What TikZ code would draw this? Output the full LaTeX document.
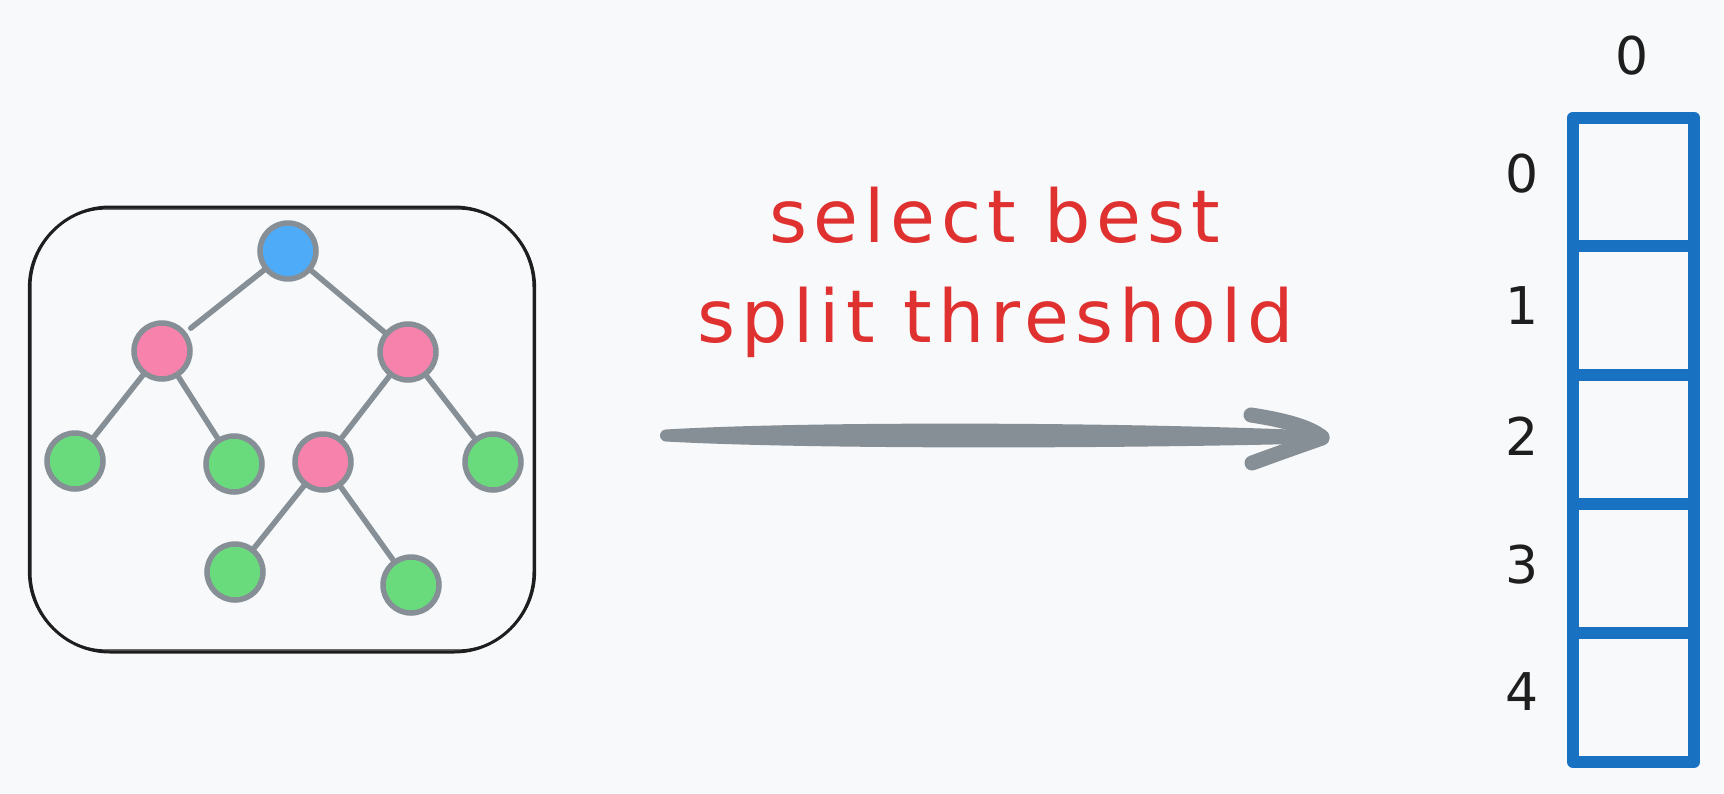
\documentclass[tikz,border=0pt]{standalone}
\usepackage{fontspec}
\newfontfamily\handfont[LetterSpace=8]{DejaVu Sans}
\newfontfamily\digitfont{DejaVu Sans}
\definecolor{bgc}{HTML}{F8F9FA}
\definecolor{edgegray}{HTML}{868E96}
\definecolor{rootblue}{HTML}{4DABF7}
\definecolor{pinkc}{HTML}{F783AC}
\definecolor{greenc}{HTML}{69DB7C}
\definecolor{inkblack}{HTML}{1E1E1E}
\definecolor{redc}{HTML}{E03131}
\definecolor{arrblue}{HTML}{1971C2}
\tikzset{
  treenode/.style={circle, minimum size=56pt, inner sep=0pt, line width=5.5pt, draw=edgegray},
  treeedge/.style={line width=5.5pt, draw=edgegray, line cap=round},
  redtext/.style={font=\handfont\fontsize{73}{80}\selectfont, text=redc, inner sep=0pt},
  rowlabel/.style={font=\digitfont\fontsize{52}{60}\selectfont, text=inkblack, inner sep=0pt},
  cell/.style={draw=arrblue, line width=12pt, minimum width=121pt, minimum height=128.9pt, inner sep=0pt, line join=round},
  barb/.style={draw=edgegray, line width=15pt, line cap=round}
}
\begin{document}
\begin{tikzpicture}[x=1pt,y=-1pt]
\fill[bgc] (0,0) rectangle (1724,793);
\useasboundingbox (0,0) rectangle (1724,793);

% sketch box
\draw[inkblack, line width=3pt, rounded corners=80pt] (30,207) rectangle (534,652);
\draw[inkblack, line width=1.2pt, rounded corners=78pt] (28.5,209) rectangle (535.5,650);

% tree nodes
\node[treenode, fill=rootblue] (root) at (288,251) {};
\node[treenode, fill=pinkc] (L) at (162,351) {};
\node[treenode, fill=pinkc] (R) at (408,352) {};
\node[treenode, fill=greenc] (LL) at (75,461) {};
\node[treenode, fill=greenc] (LR) at (234,464) {};
\node[treenode, fill=pinkc] (M) at (323,462) {};
\node[treenode, fill=greenc] (RR) at (493,462) {};
\node[treenode, fill=greenc] (BL) at (235,572) {};
\node[treenode, fill=greenc] (BR) at (411,585) {};

% tree edges
\draw[treeedge, shorten >=6pt] (root) -- (L);
\draw[treeedge] (root) -- (R);
\draw[treeedge] (L) -- (LL);
\draw[treeedge] (L) -- (LR);
\draw[treeedge] (R) -- (M);
\draw[treeedge] (R) -- (RR);
\draw[treeedge] (M) -- (BL);
\draw[treeedge] (M) -- (BR);

% label
\node[redtext, anchor=base] (t1) at (995,242) {select best};
\node[redtext, anchor=base] (t2) at (996,342) {split threshold};

% arrow (tapered shaft)
\fill[edgegray] (666,441.5) arc[start angle=90, end angle=270, radius=6]
   .. controls (800,421.5) and (1100,421.5) .. (1315,430.5)
   -- (1315,443.5)
   .. controls (1100,449) and (800,449) .. (666,441.5) -- cycle;
\draw[barb] (1251,415) .. controls (1290,421) and (1310,428) .. (1322,437);
\draw[barb] (1252,463) .. controls (1285,451) .. (1322,438);

% array
\node[cell] (c0) at (1633.5,181.95) {};
\node[cell] (c1) at (1633.5,310.85) {};
\node[cell] (c2) at (1633.5,439.75) {};
\node[cell] (c3) at (1633.5,568.65) {};
\node[cell] (c4) at (1633.5,697.55) {};

\node[rowlabel] (col0) at (1632,55.5) {0};
\node[rowlabel] (r0) at (1522,174) {0};
\node[rowlabel] (r1) at (1522,306) {1};
\node[rowlabel] (r2) at (1522,436) {2};
\node[rowlabel] (r3) at (1522,565) {3};
\node[rowlabel] (r4) at (1522,692) {4};
\end{tikzpicture}
\end{document}
